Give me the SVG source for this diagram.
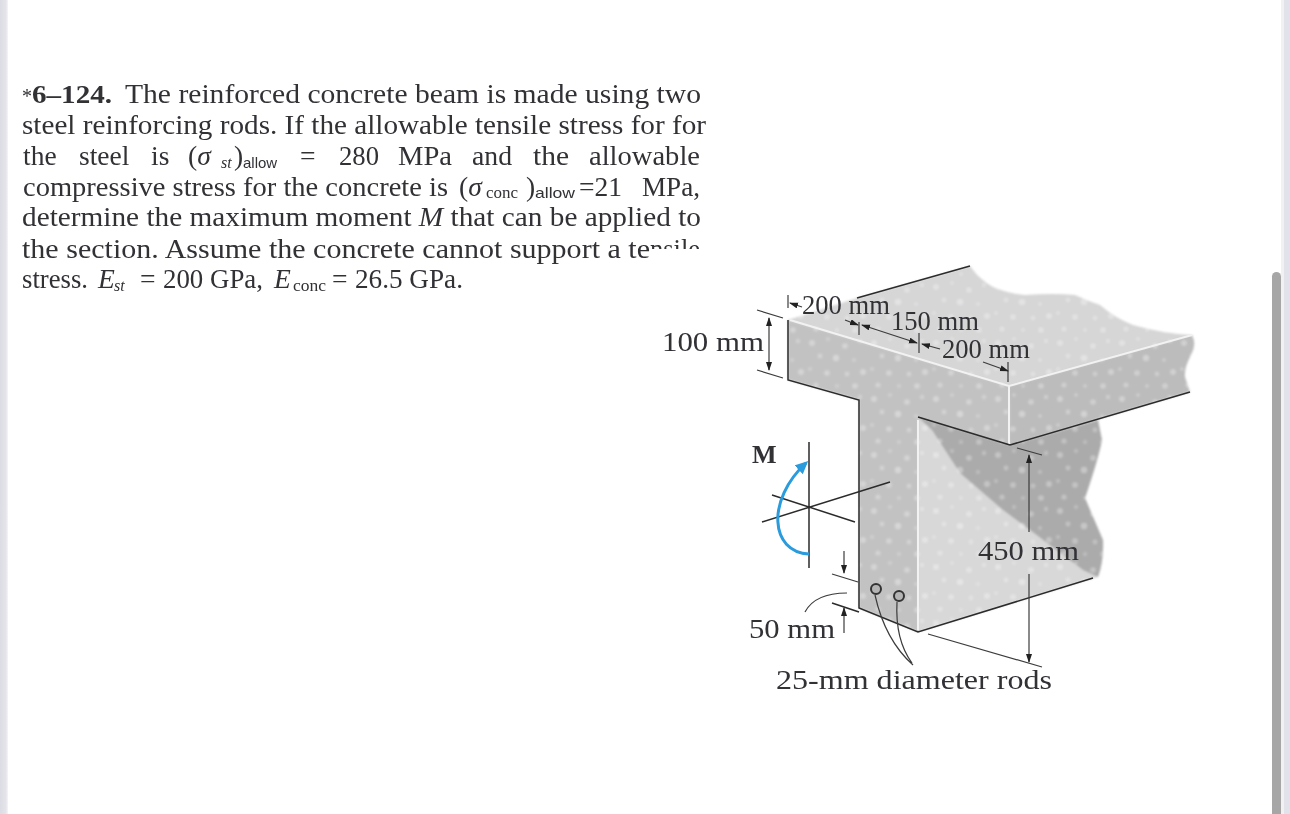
<svg xmlns="http://www.w3.org/2000/svg" width="1290" height="814" viewBox="0 0 1290 814">
<style>
.t{font-family:"Liberation Serif","Times New Roman",serif;fill:#303036}
.p{font-size:27.5px}
.d{font-size:27px}
.s{font-family:"Liberation Sans",Arial,sans-serif;font-size:15px}
.sr{font-size:16px}
.i{font-style:italic}
.l{fill:none;stroke:#2b2b2b;stroke-width:1.5}
.w{fill:none;stroke:#f2f2f2;stroke-width:2}
.c{fill:none;stroke:#3c3c3c;stroke-width:1.2}
.r{fill:#b4b4b4;stroke:#333;stroke-width:2}
</style>
<defs>
<pattern id="dots" width="62" height="56" patternUnits="userSpaceOnUse">
<circle cx="6" cy="7" r="3" fill="#fff" opacity=".3"/><circle cx="22" cy="3" r="2" fill="#fff" opacity=".22"/>
<circle cx="39" cy="10" r="2.8" fill="#fff" opacity=".3"/><circle cx="54" cy="5" r="2.2" fill="#fff" opacity=".25"/>
<circle cx="14" cy="20" r="2.4" fill="#fff" opacity=".28"/><circle cx="30" cy="22" r="3.2" fill="#fff" opacity=".32"/>
<circle cx="48" cy="24" r="2" fill="#fff" opacity=".22"/><circle cx="4" cy="33" r="2" fill="#fff" opacity=".22"/>
<circle cx="21" cy="37" r="2.8" fill="#fff" opacity=".3"/><circle cx="41" cy="38" r="2.4" fill="#fff" opacity=".26"/>
<circle cx="57" cy="36" r="3" fill="#fff" opacity=".3"/><circle cx="10" cy="49" r="2.6" fill="#fff" opacity=".28"/>
<circle cx="31" cy="50" r="2" fill="#fff" opacity=".22"/><circle cx="49" cy="50" r="2.8" fill="#fff" opacity=".3"/>
</pattern>
<filter id="soft" x="-5%" y="-5%" width="110%" height="110%"><feGaussianBlur stdDeviation="1.2"/></filter>
<filter id="txt" x="-5%" y="-20%" width="110%" height="140%"><feGaussianBlur stdDeviation="0.4"/></filter>
<clipPath id="cut"><rect x="650" y="236" width="55" height="13"/></clipPath>
<linearGradient id="edge" x1="0" x2="1" y1="0" y2="0"><stop offset="0" stop-color="#dcdce4"/><stop offset=".75" stop-color="#e4e4ea"/><stop offset="1" stop-color="#f6f6f8"/></linearGradient>
<marker id="a" markerWidth="9" markerHeight="8" refX="8" refY="3" orient="auto-start-reverse" markerUnits="userSpaceOnUse"><path d="M0 0L9 3L0 6z" fill="#222"/></marker>
<marker id="b" markerWidth="14" markerHeight="14" refX="10" refY="6" orient="auto" markerUnits="userSpaceOnUse"><path d="M0 0L13 6L0 12z" fill="#2a9bdc"/></marker>
</defs>
<rect width="1290" height="814" fill="#fff"/>
<rect id="left-edge" width="8" height="814" fill="url(#edge)"/>
<rect x="1281" width="3" height="814" fill="#f1f1f4"/>
<rect id="right-edge" x="1284" width="6" height="814" fill="#e2e2ea"/>
<rect id="scrollbar" x="1272" y="272" width="9" height="560" rx="4.5" fill="#a6a6a6"/>
<g id="problem" class="t p" filter="url(#txt)">
<text x="22" y="103" font-size="20">*</text>
<text x="32" y="103" font-weight="700" font-size="26" textLength="80" lengthAdjust="spacingAndGlyphs">6–124.</text>
<text x="125" y="103" textLength="576" lengthAdjust="spacingAndGlyphs">The reinforced concrete beam is made using two</text>
<text x="22" y="134" textLength="684" lengthAdjust="spacingAndGlyphs">steel reinforcing rods. If the allowable tensile stress for for</text>
<text x="23" y="165">the</text><text x="79" y="165">steel</text><text x="151" y="165">is</text>
<text x="188" y="165">(<tspan class="i">σ</tspan></text>
<text x="221" y="168" class="sr i">st</text>
<text x="234" y="165">)</text>
<text class="s" x="243" y="168">allow</text>
<text x="300" y="165">=</text><text x="339" y="165" textLength="40" lengthAdjust="spacingAndGlyphs">280</text><text x="398" y="165" textLength="54" lengthAdjust="spacingAndGlyphs">MPa</text><text x="472" y="165" textLength="40" lengthAdjust="spacingAndGlyphs">and</text><text x="533" y="165" textLength="36" lengthAdjust="spacingAndGlyphs">the</text><text x="589" y="165" textLength="111" lengthAdjust="spacingAndGlyphs">allowable</text>
<text x="23" y="196" textLength="425" lengthAdjust="spacingAndGlyphs">compressive stress for the concrete is</text>
<text x="459" y="196">(<tspan class="i">σ</tspan></text>
<text class="sr" x="486" y="198" textLength="32" lengthAdjust="spacingAndGlyphs">conc</text>
<text x="526" y="196">)</text>
<text class="s" x="535" y="198" textLength="40" lengthAdjust="spacingAndGlyphs">allow</text>
<text x="579" y="196">=21</text><text x="642" y="196" textLength="58" lengthAdjust="spacingAndGlyphs">MPa,</text>
<text x="22" y="226" textLength="679" lengthAdjust="spacingAndGlyphs">determine the maximum moment <tspan class="i">M</tspan> that can be applied to</text>
<text x="22" y="258" textLength="628" lengthAdjust="spacingAndGlyphs">the section. Assume the concrete cannot support a te</text>
<text x="650" y="258" clip-path="url(#cut)" textLength="50" lengthAdjust="spacingAndGlyphs">nsile</text>
<text x="22" y="288" textLength="66" lengthAdjust="spacingAndGlyphs">stress.</text>
<text x="98" y="288" class="i">E</text>
<text class="sr i" x="114" y="291">st</text>
<text x="140" y="288">=</text>
<text x="163" y="288" textLength="100" lengthAdjust="spacingAndGlyphs">200 GPa,</text>
<text x="274" y="288" class="i">E</text>
<text class="sr" x="293" y="291" textLength="33" lengthAdjust="spacingAndGlyphs">conc</text>
<text x="332" y="288">=</text>
<text x="355" y="288" textLength="108" lengthAdjust="spacingAndGlyphs">26.5 GPa.</text>
</g>
<g id="beam">
<g filter="url(#soft)">
<path id="web-side" d="M918 417L1010 445L1098 420L1102 440Q1098 460 1085 498Q1090 510 1103 540Q1104 560 1098 577L918 632Z" fill="#d8d8d8"/>
<path id="web-shadow" d="M918 417L1010 445L1098 420L1102 440Q1098 460 1085 498Q1090 510 1103 540Q1104 560 1098 577L1083 570L1030 530L1003 510L960 473L932 430Z" fill="#ababab"/>
<path id="flange-top" d="M788 320L857 298L970 266Q980 280 993 287Q1010 294 1025 295Q1055 293 1075 295Q1088 301 1100 305Q1115 318 1133 325Q1165 334 1192 335L1009 386Z" fill="#d6d6d6"/>
<path id="flange-side" d="M1009 386L1192 335Q1197 345 1191 355Q1184 368 1185 377L1190 392L1010 445Z" fill="#bcbcbc"/>
<path id="front-face" d="M788 320L1009 386L1010 445L918 417V632L859 608V400L788 380Z" fill="#c2c2c2"/>
<path d="M788 320L857 298L970 266Q980 280 993 287Q1010 294 1025 295Q1055 293 1075 295Q1088 301 1100 305Q1115 318 1133 325Q1165 334 1192 335Q1197 345 1191 355Q1184 368 1185 377L1190 392L1098 420L1102 440Q1098 460 1085 498Q1090 510 1103 540Q1104 560 1098 577L918 632L859 608V400L788 380Z" fill="url(#dots)"/>
</g>
<path class="w" d="M790 320L1009 386L1192 335M1009 386V445M918 420V630"/>
<path class="l" d="M857 298L970 266M788 320V380L859 400V608L918 632L1093 578M1010 445L1190 392M918 417L1010 445"/>
</g>
<g id="connectors">
<path class="c" d="M757 310L783 318M757 370L783 378"/>
<path class="c" d="M769 318V370" marker-start="url(#a)" marker-end="url(#a)"/>
<path class="c" d="M788 295V308M859 322V335M919 333V353M1008 362V382"/>
<path class="c" d="M790 303L802 307" marker-start="url(#a)"/>
<path class="c" d="M845 320L858 325" marker-end="url(#a)"/>
<path class="c" d="M862 325L917 343" marker-start="url(#a)" marker-end="url(#a)"/>
<path class="c" d="M922 344L940 349" marker-start="url(#a)"/>
<path class="c" d="M983 362L1008 371" marker-end="url(#a)"/>
<path class="l" d="M809 442V568M772 495L855 522M762 522L890 482"/>
<path d="M809 554C770 552 766 500 806 463" fill="none" stroke="#2a9bdc" stroke-width="3" marker-end="url(#b)"/>
<path class="c" d="M1017 448L1042 455M928 634L1042 667"/>
<path class="c" d="M1029 455V532" marker-start="url(#a)"/>
<path class="c" d="M1029 574V662" marker-end="url(#a)"/>
<path class="c" d="M844 551V573" marker-end="url(#a)"/>
<path class="c" d="M832 574L858 582"/>
<path class="l" d="M832 603L859 612"/>
<path class="c" d="M844 633V608" marker-end="url(#a)"/>
<path class="c" d="M805 612Q815 593 847 593"/>
<path class="c" d="M875 595Q885 640 913 665M897 602Q895 640 912 663"/>
<circle class="r" cx="876" cy="589" r="5"/>
<circle class="r" cx="899" cy="596" r="5"/>
</g>
<g id="labels" class="t d" filter="url(#txt)">
<text x="662" y="351" textLength="102" lengthAdjust="spacingAndGlyphs">100 mm</text>
<text x="802" y="314" textLength="88" lengthAdjust="spacingAndGlyphs">200 mm</text>
<text x="891" y="330" textLength="88" lengthAdjust="spacingAndGlyphs">150 mm</text>
<text x="942" y="358" textLength="88" lengthAdjust="spacingAndGlyphs">200 mm</text>
<text x="752" y="463" font-weight="700" font-size="26">M</text>
<text x="978" y="560" textLength="101" lengthAdjust="spacingAndGlyphs">450 mm</text>
<text x="749" y="638" textLength="86" lengthAdjust="spacingAndGlyphs">50 mm</text>
<text x="776" y="689" textLength="276" lengthAdjust="spacingAndGlyphs">25-mm diameter rods</text>
</g>
</svg>
